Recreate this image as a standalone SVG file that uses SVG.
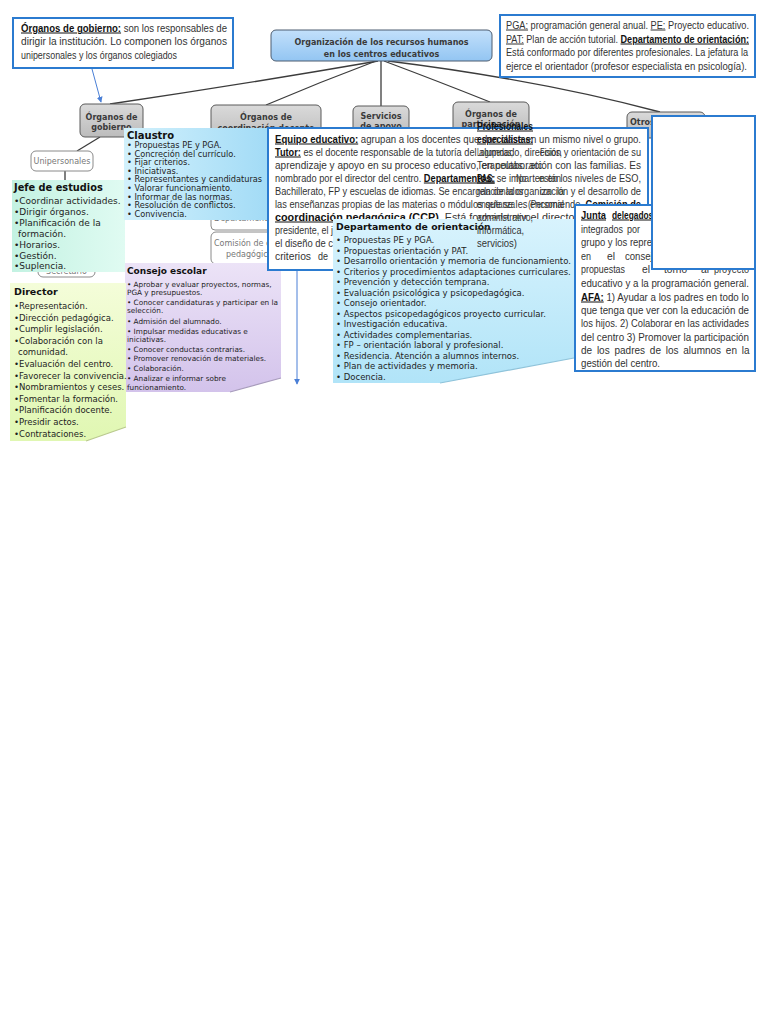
<svg xmlns="http://www.w3.org/2000/svg" width="768" height="1024" viewBox="0 0 768 1024">
<defs>
<linearGradient id="gGray" x1="0" y1="0" x2="0" y2="1"><stop offset="0" stop-color="#dadada"/><stop offset="1" stop-color="#bcbcbc"/></linearGradient>
<linearGradient id="gTitle" x1="0" y1="0" x2="0" y2="1"><stop offset="0" stop-color="#c2e0fb"/><stop offset="1" stop-color="#93c5f2"/></linearGradient>
<linearGradient id="gJefe" x1="0" y1="0" x2="1" y2="0"><stop offset="0" stop-color="#c3f2e2"/><stop offset="1" stop-color="#e0fbf2"/></linearGradient>
<linearGradient id="gDir" x1="0" y1="0" x2="0" y2="1"><stop offset="0" stop-color="#f4fdd9"/><stop offset="1" stop-color="#e0f7b2"/></linearGradient>
<linearGradient id="gCla" x1="0" y1="0" x2="1" y2="0"><stop offset="0" stop-color="#d2f1fc"/><stop offset="1" stop-color="#a2dbf6"/></linearGradient>
<linearGradient id="gCon" x1="0" y1="0" x2="0" y2="1"><stop offset="0" stop-color="#ece3f7"/><stop offset="1" stop-color="#d3c3eb"/></linearGradient>
<linearGradient id="gOri" x1="0" y1="0" x2="0" y2="1"><stop offset="0" stop-color="#d8f3fd"/><stop offset="1" stop-color="#b1e4f8"/></linearGradient>
<marker id="arrB" viewBox="0 0 8 8" refX="7" refY="4" markerWidth="6" markerHeight="6" orient="auto"><path d="M0,0 L8,4 L0,8 z" fill="#4a7fd6"/></marker>
<style>
.nodebox{fill:url(#gGray);stroke:#5a5a5a;stroke-width:1}
.nodetxt{font-family:"DejaVu Sans",sans-serif;font-weight:bold;font-size:8px;fill:#3a3a3a;text-anchor:middle}
.nodetxtl{font-family:"DejaVu Sans",sans-serif;font-weight:bold;font-size:8px;fill:#3a3a3a}
.wbox{fill:#fff;stroke:#8a8a8a;stroke-width:1}
.gtxt{font-family:"DejaVu Sans",sans-serif;font-size:8px;fill:#777}
.note{fill:#fff;stroke:#2b7bd0;stroke-width:2}
.nt{font-family:"Liberation Sans",Arial,sans-serif;font-size:10px;fill:#333}
.b{font-weight:bold;fill:#111}
.u{text-decoration:underline}
.conn{fill:none;stroke:#3c3c3c;stroke-width:1.3}
.blue{fill:none;stroke:#4a7fd6;stroke-width:1}
.pt{font-family:"DejaVu Sans",sans-serif;fill:#1e1e1e}
.ptitle{font-family:"DejaVu Sans",sans-serif;font-weight:bold;fill:#111}
</style>
</defs>
<rect width="768" height="1024" fill="#fff"/>

<g id="connectors">
<path class="conn" d="M378,61 Q245,84 110,104"/>
<path class="conn" d="M376,61 Q320,82 266,105"/>
<path class="conn" d="M381,61 L381,106"/>
<path class="conn" d="M384,61 Q440,82 490,102"/>
<path class="conn" d="M388,61 Q540,80 660,112"/>
<path class="conn" d="M100,137 L77,151" stroke-width="1"/>
<path class="conn" d="M65,171 L65,181" stroke-width="1"/>
<path class="blue" d="M92,69 L101,102" marker-end="url(#arrB)"/>
<path class="blue" d="M297,271 L297,384" marker-end="url(#arrB)"/>
</g>

<g id="title">
<rect x="271" y="30" width="221" height="31" rx="5" fill="url(#gTitle)" stroke="#4d5d70" stroke-width="1"/>
<text class="nodetxt" x="381.5" y="45" font-size="9.6" fill="#1f2f44">Organización de los recursos humanos</text>
<text class="nodetxt" x="381.5" y="56.5" font-size="9.6" fill="#1f2f44">en los centros educativos</text>
</g>

<g id="n-gobierno">
<rect class="nodebox" x="80" y="104" width="63" height="33" rx="5"/>
<text class="nodetxt" x="111.5" y="119.5">Órganos de</text>
<text class="nodetxt" x="111.5" y="130">gobierno</text>
</g>
<g id="n-coordinacion">
<rect class="nodebox" x="211" y="105" width="110" height="36" rx="5"/>
<text class="nodetxt" x="266" y="120">Órganos de</text>
<text class="nodetxt" x="266" y="130.5">coordinación docente</text>
</g>
<g id="n-servicios">
<rect class="nodebox" x="353" y="106" width="56" height="30" rx="5"/>
<text class="nodetxt" x="381" y="118.5">Servicios</text>
<text class="nodetxt" x="381" y="128.5">de apoyo</text>
</g>
<g id="n-participacion">
<rect class="nodebox" x="453" y="102" width="76" height="32" rx="5"/>
<text class="nodetxt" x="491" y="116.5">Órganos de</text>
<text class="nodetxt" x="491" y="126.5">participación</text>
</g>
<g id="n-otros">
<rect class="nodebox" x="627" y="112" width="78" height="26" rx="5"/>
<text class="nodetxtl" x="630" y="125">Otros</text>
</g>

<g id="n-unipersonales">
<rect class="wbox" x="31" y="151" width="62" height="20" rx="5"/>
<text class="gtxt" x="62" y="164" text-anchor="middle">Unipersonales</text>
</g>
<g id="n-secretario">
<rect class="wbox" x="38" y="258" width="57" height="19" rx="5"/>
<text class="gtxt" x="66.5" y="273.5" text-anchor="middle">Secretario</text>
</g>
<g id="n-coord-hijos">
<rect class="wbox" x="211" y="160" width="80" height="22" rx="4"/>
<rect class="wbox" x="211" y="186" width="80" height="20" rx="4"/>
<rect class="wbox" x="211" y="207" width="80" height="23" rx="4"/>
<text class="gtxt" x="214" y="221">Departamentos</text>
<rect class="wbox" x="211" y="232" width="80" height="32" rx="5"/>
<text class="gtxt" x="214" y="246">Comisión de coordinación</text>
<text class="gtxt" x="226" y="257">pedagógica</text>
</g>

<g id="note-gobierno">
<rect class="note" x="13" y="18" width="220" height="50"/>
<text class="nt" x="21" y="31.5" textLength="206" lengthAdjust="spacingAndGlyphs"><tspan class="b u">Órganos de gobierno:</tspan> son los responsables de</text>
<text class="nt" x="21" y="45" textLength="206" lengthAdjust="spacingAndGlyphs">dirigir la institución. Lo componen los órganos</text>
<text class="nt" x="21" y="58.5" textLength="156" lengthAdjust="spacingAndGlyphs">unipersonales y los órganos colegiados</text>
</g>

<g id="note-pga">
<rect class="note" x="500" y="15" width="255" height="62"/>
<text class="nt" x="506" y="28.5" textLength="243" lengthAdjust="spacingAndGlyphs"><tspan class="u">PGA:</tspan> programación general anual. <tspan class="u">PE:</tspan> Proyecto educativo.</text>
<text class="nt" x="506" y="42.5" textLength="243" lengthAdjust="spacingAndGlyphs"><tspan class="u">PAT:</tspan> Plan de acción tutorial. <tspan class="b u">Departamento de orientación:</tspan></text>
<text class="nt" x="506" y="56" textLength="242" lengthAdjust="spacingAndGlyphs">Está conformado por diferentes profesionales. La jefatura la</text>
<text class="nt" x="506" y="70" textLength="241" lengthAdjust="spacingAndGlyphs">ejerce el orientador (profesor especialista en psicología).</text>
</g>

<g id="panel-jefe">
<rect x="12" y="180" width="113" height="92" fill="url(#gJefe)"/>
<text class="ptitle" x="14" y="191" font-size="9.8">Jefe de estudios</text>
<g class="pt" font-size="9">
<text x="14" y="204.3">•Coordinar actividades.</text>
<text x="14" y="215.1">•Dirigir órganos.</text>
<text x="14" y="226">•Planificación de la</text>
<text x="18" y="236.8">formación.</text>
<text x="14" y="247.6">•Horarios.</text>
<text x="14" y="258.5">•Gestión.</text>
<text x="14" y="269.3">•Suplencia.</text>
</g>
</g>

<g id="panel-claustro">
<rect x="124" y="128" width="146" height="92" fill="url(#gCla)"/>
<text class="ptitle" x="127" y="139" font-size="10">Claustro</text>
<g class="pt" font-size="8.2" fill="#24394a">
<text x="127" y="148">• Propuestas PE y PGA.</text>
<text x="127" y="156.6">• Concreción del currículo.</text>
<text x="127" y="165.2">• Fijar criterios.</text>
<text x="127" y="173.8">• Iniciativas.</text>
<text x="127" y="182.4">• Representantes y candidaturas</text>
<text x="127" y="191">• Valorar funcionamiento.</text>
<text x="127" y="199.6">• Informar de las normas.</text>
<text x="127" y="208.2">• Resolución de conflictos.</text>
<text x="127" y="216.8">• Convivencia.</text>
</g>
</g>

<g id="panel-consejo">
<polygon points="125,263 281,263 281,378 230,392 125,392" fill="url(#gCon)"/>
<path d="M230,392 L281,378" stroke="#a89cbc" stroke-width="1.2" fill="none"/>
<text class="ptitle" x="127" y="273.5" font-size="9">Consejo escolar</text>
<g class="pt" font-size="7.3" fill="#2f2838">
<text x="127" y="286.6">• Aprobar y evaluar proyectos, normas,</text>
<text x="127" y="294.6">PGA y presupuestos.</text>
<text x="127" y="304.6">• Conocer candidaturas y participar en la</text>
<text x="127" y="312.6">selección.</text>
<text x="127" y="323.6">• Admisión del alumnado.</text>
<text x="127" y="333.6">• Impulsar medidas educativas e</text>
<text x="127" y="341.6">iniciativas.</text>
<text x="127" y="351.6">• Conocer conductas contrarias.</text>
<text x="127" y="360.6">• Promover renovación de materiales.</text>
<text x="127" y="370.6">• Colaboración.</text>
<text x="127" y="380.6">• Analizar e informar sobre</text>
<text x="127" y="389.6">funcionamiento.</text>
</g>
</g>

<g id="panel-director">
<polygon points="10,283 126,283 126,427 86,441 10,441" fill="url(#gDir)"/>
<path d="M86,441 L126,427" stroke="#b9c98e" stroke-width="1.2" fill="none"/>
<text class="ptitle" x="14" y="294.5" font-size="9.5">Director</text>
<g class="pt" font-size="8.5">
<text x="14" y="309">•Representación.</text>
<text x="14" y="320.6">•Dirección pedagógica.</text>
<text x="14" y="332.2">•Cumplir legislación.</text>
<text x="14" y="343.8">•Colaboración con la</text>
<text x="18" y="355.4">comunidad.</text>
<text x="14" y="367">•Evaluación del centro.</text>
<text x="14" y="378.6">•Favorecer la convivencia.</text>
<text x="14" y="390.2">•Nombramientos y ceses.</text>
<text x="14" y="401.8">•Fomentar la formación.</text>
<text x="14" y="413.4">•Planificación docente.</text>
<text x="14" y="425">•Presidir actos.</text>
<text x="14" y="436.6">•Contrataciones.</text>
</g>
</g>

<g id="note-equipo">
<rect class="note" x="268" y="128" width="380" height="142"/>
<text class="nt" x="275" y="142.5" textLength="366" lengthAdjust="spacingAndGlyphs"><tspan class="b u">Equipo educativo:</tspan> agrupan a los docentes que dan clase en un mismo nivel o grupo.</text>
<text class="nt" x="275" y="155.5" textLength="366" lengthAdjust="spacingAndGlyphs"><tspan class="b u">Tutor:</tspan> es el docente responsable de la tutoría del alumnado, dirección y orientación de su</text>
<text class="nt" x="275" y="168.5" textLength="366" lengthAdjust="spacingAndGlyphs">aprendizaje y apoyo en su proceso educativo, en colaboración con las familias. Es</text>
<text class="nt" x="275" y="181.5" textLength="366" lengthAdjust="spacingAndGlyphs">nombrado por el director del centro. <tspan class="b u">Departamentos:</tspan> se imparten en los niveles de ESO,</text>
<text class="nt" x="275" y="194.5" textLength="366" lengthAdjust="spacingAndGlyphs">Bachillerato, FP y escuelas de idiomas. Se encargan de la organización y el desarrollo de</text>
<text class="nt" x="275" y="207.5" textLength="366" lengthAdjust="spacingAndGlyphs">las enseñanzas propias de las materias o módulos que se les encomiende. <tspan class="b u">Comisión de</tspan></text>
<text class="nt" x="275" y="220.5" textLength="303" lengthAdjust="spacingAndGlyphs"><tspan class="b u">coordinación pedagógica (CCP)</tspan>. Está formada por el director</text>
<text class="nt" x="275" y="233.5" textLength="58" lengthAdjust="spacingAndGlyphs">presidente, el j</text>
<text class="nt" x="275" y="246.5" textLength="58" lengthAdjust="spacingAndGlyphs">el diseño de c</text>
<text class="nt" x="275" y="260" textLength="36" lengthAdjust="spacingAndGlyphs">criterios</text>
<text class="nt" x="318" y="260" textLength="10" lengthAdjust="spacingAndGlyphs">de</text>
</g>

<g id="panel-orientacion">
<polygon points="333,219 574,219 574,358 440,383 333,383" fill="url(#gOri)"/>
<path d="M440,383 L574,358" stroke="#8fc3da" stroke-width="1.2" fill="none"/>
<text class="ptitle" x="336" y="230" font-size="9.3">Departamento de orientación</text>
<g class="pt" font-size="8.5" fill="#1f2c38">
<text x="336" y="243">• Propuestas PE y PGA.</text>
<text x="336" y="253.5">• Propuestas orientación y PAT.</text>
<text x="336" y="264">• Desarrollo orientación y memoria de funcionamiento.</text>
<text x="336" y="274.5">• Criterios y procedimientos adaptaciones curriculares.</text>
<text x="336" y="285">• Prevención y detección temprana.</text>
<text x="336" y="295.5">• Evaluación psicológica y psicopedagógica.</text>
<text x="336" y="306">• Consejo orientador.</text>
<text x="336" y="316.5">• Aspectos psicopedagógicos proyecto curricular.</text>
<text x="336" y="327">• Investigación educativa.</text>
<text x="336" y="337.5">• Actividades complementarias.</text>
<text x="336" y="348">• FP – orientación laboral y profesional.</text>
<text x="336" y="358.5">• Residencia. Atención a alumnos internos.</text>
<text x="336" y="369">• Plan de actividades y memoria.</text>
<text x="336" y="379.5">• Docencia.</text>
</g>
</g>

<g id="note-junta">
<rect class="note" x="575" y="205" width="180" height="166"/>
<text class="nt b u" x="581" y="218.5" textLength="25" lengthAdjust="spacingAndGlyphs">Junta</text>
<text class="nt b u" x="612" y="218.5" textLength="44" lengthAdjust="spacingAndGlyphs">delegados:</text>
<text class="nt" x="581" y="232.5" textLength="42" lengthAdjust="spacingAndGlyphs">integrados</text>
<text class="nt" x="627" y="232.5" textLength="13" lengthAdjust="spacingAndGlyphs">por</text>
<text class="nt" x="581" y="246" textLength="112" lengthAdjust="spacingAndGlyphs">grupo y los representantes</text>
<text class="nt" x="581" y="259.5" textLength="10" lengthAdjust="spacingAndGlyphs">en</text>
<text class="nt" x="607" y="259.5" textLength="8" lengthAdjust="spacingAndGlyphs">el</text>
<text class="nt" x="625" y="259.5" textLength="33" lengthAdjust="spacingAndGlyphs">consejo</text>
<text class="nt" x="581" y="273" textLength="44" lengthAdjust="spacingAndGlyphs">propuestas</text>
<text class="nt" x="642" y="273" textLength="8" lengthAdjust="spacingAndGlyphs">el</text>
<text class="nt" x="664" y="273" textLength="23" lengthAdjust="spacingAndGlyphs">torno</text>
<text class="nt" x="701" y="273" textLength="8" lengthAdjust="spacingAndGlyphs">al</text>
<text class="nt" x="714" y="273" textLength="35" lengthAdjust="spacingAndGlyphs">proyecto</text>
<text class="nt" x="581" y="287" textLength="168" lengthAdjust="spacingAndGlyphs">educativo y a la programación general.</text>
<text class="nt" x="581" y="300.5" textLength="168" lengthAdjust="spacingAndGlyphs"><tspan class="b u">AFA:</tspan> 1) Ayudar a los padres en todo lo</text>
<text class="nt" x="581" y="313.5" textLength="168" lengthAdjust="spacingAndGlyphs">que tenga que ver con la educación de</text>
<text class="nt" x="581" y="327" textLength="168" lengthAdjust="spacingAndGlyphs">los hijos. 2) Colaborar en las actividades</text>
<text class="nt" x="581" y="340.5" textLength="168" lengthAdjust="spacingAndGlyphs">del centro 3) Promover la participación</text>
<text class="nt" x="581" y="353.5" word-spacing="2">de los padres de los alumnos en la</text>
<text class="nt" x="581" y="366.5" textLength="79" lengthAdjust="spacingAndGlyphs">gestión del centro.</text>
</g>

<g id="note-otros">
<rect class="note" x="652" y="116" width="103" height="153"/>
</g>

<g id="note-profesionales">
<text class="nt b u" x="477" y="129.5" textLength="56" lengthAdjust="spacingAndGlyphs">Profesionales</text>
<text class="nt b u" x="477" y="142.5" textLength="56" lengthAdjust="spacingAndGlyphs">especialistas:</text>
<text class="nt" x="477" y="155.5" textLength="36" lengthAdjust="spacingAndGlyphs">Logopedas,</text>
<text class="nt" x="540" y="155.5" textLength="22" lengthAdjust="spacingAndGlyphs">Fisios,</text>
<text class="nt" x="477" y="168.5" textLength="68" lengthAdjust="spacingAndGlyphs">Terapeutas...etc.</text>
<text class="nt b u" x="477" y="181.5" textLength="18" lengthAdjust="spacingAndGlyphs">PAS:</text>
<text class="nt" x="516" y="181.5" textLength="10" lengthAdjust="spacingAndGlyphs">No</text>
<text class="nt" x="539" y="181.5" textLength="22" lengthAdjust="spacingAndGlyphs">están</text>
<text class="nt" x="477" y="194.5" textLength="46" lengthAdjust="spacingAndGlyphs">relacionados</text>
<text class="nt" x="540" y="194.5" textLength="12" lengthAdjust="spacingAndGlyphs">con</text>
<text class="nt" x="557" y="194.5" textLength="7" lengthAdjust="spacingAndGlyphs">la</text>
<text class="nt" x="477" y="207.5" textLength="38" lengthAdjust="spacingAndGlyphs">enseñanza</text>
<text class="nt" x="528" y="207.5" textLength="36" lengthAdjust="spacingAndGlyphs">(Personal</text>
<text class="nt" x="477" y="220.5" textLength="56" lengthAdjust="spacingAndGlyphs">administrativo,</text>
<text class="nt" x="477" y="233.5" textLength="47" lengthAdjust="spacingAndGlyphs">informática,</text>
<text class="nt" x="477" y="246.5" textLength="40" lengthAdjust="spacingAndGlyphs">servicios)</text>
</g>
</svg>
